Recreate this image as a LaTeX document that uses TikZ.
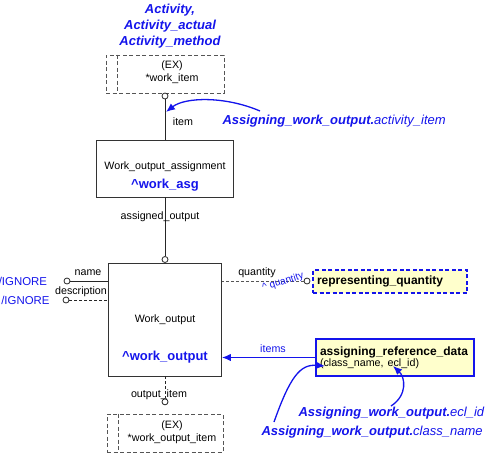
\documentclass[tikz,border=0pt]{standalone}
\usepackage{fontspec}
\setmainfont{Liberation Sans}
\usetikzlibrary{arrows.meta,positioning}
\definecolor{refblue}{RGB}{20,20,235}
\definecolor{refyellow}{RGB}{255,255,204}
\definecolor{exgray}{RGB}{85,85,85}

\begin{document}
\begin{tikzpicture}[x=1pt,y=-1pt,on grid,
    font=\fontsize{10.7}{13}\selectfont,
    entity/.style={draw=black!80, line width=0.9pt},
    exbox/.style={draw=exgray, line width=0.9pt, dash pattern=on 4pt off 2.5pt,
      minimum width=118pt, minimum height=38pt},
    exline/.style={draw=exgray, line width=0.9pt, dash pattern=on 4pt off 2.5pt},
    endpt/.style={circle, draw=black!85, fill=white, line width=0.8pt,
      inner sep=0pt, minimum size=6pt},
    link/.style={draw=black!85, line width=0.9pt},
    dlink/.style={link, dash pattern=on 3pt off 2pt},
    alias/.style={text=refblue, font=\fontsize{13}{15}\selectfont\bfseries},
    note/.style={text=refblue, font=\fontsize{13}{16}\selectfont\bfseries\itshape},
    ignore/.style={text=refblue, font=\fontsize{11.4}{14}\selectfont},
    ptr/.style={draw=refblue, line width=1.3pt, -{Latex[length=9pt,width=7.5pt]}},
    refbox/.style={draw=refblue, fill=refyellow, line width=1.3pt, align=left,
      inner xsep=4pt, font=\fontsize{12}{12}\selectfont}]
  \useasboundingbox (0,0) rectangle (487,453);

  % entities, top to bottom
  \node[exbox] (exa) at (165,74) {};
  \node[entity, minimum width=137pt, minimum height=57pt] (woa) [below=94.5pt of exa] {};
  \node[entity, minimum width=113pt, minimum height=113pt] (wo) [below=151pt of woa] {};
  \node[exbox, minimum width=116pt] (exb) [below=113.5pt of wo] {};
  \draw[exline] ([xshift=12pt]exa.north west) -- ([xshift=12pt]exa.south west);
  \draw[exline] ([xshift=12pt]exb.north west) -- ([xshift=12pt]exb.south west);

  \node[align=center] (exatxt) at ([xshift=7pt,yshift=1.5pt]exa.center) {(EX)\\*work\_item};
  \node[align=center] (exbtxt) at ([xshift=7pt,yshift=1pt]exb.center) {(EX)\\*work\_output\_item};
  \node (woaname) [above=1.5pt of woa] {Work\_output\_assignment};
  \node[alias] (woaalias) [below=16.5pt of woa] {\textasciicircum work\_asg};
  \node (woname) at (wo) {Work\_output};
  \node[alias] (woalias) [below=37.5pt of wo] {\textasciicircum work\_output};

  \node[note, align=center] (supers) at (170,26.5) {Activity,\\Activity\_actual\\Activity\_method};

  % referenced boxes
  \node[refbox, dash pattern=on 4pt off 2.5pt, text width=146pt, minimum height=23pt] (rq)
    at (390,281.5) {\bfseries representing\_quantity};
  \node[refbox, text width=150pt, minimum height=37pt] (ard) at (395,357.5)
    {\bfseries assigning\_reference\_data\\[-1pt]\mdseries\fontsize{10.7}{12}\selectfont(class\_name, ecl\_id)};

  % end circles
  \node[endpt] (c1) [below=22pt of exa] {};
  \node[endpt] (c2) [above=60pt of wo] {};
  \node[endpt] (c3) [below=22pt of wo.south] {};
  \node[endpt] (cn) at (67,281) {};
  \node[endpt] (cd) at (66,300) {};
  \node[endpt] (cq) at (307,281) {};

  \draw[link] (c1) -- (woa);
  \draw[link] (woa) -- (c2);
  \draw[dlink] (wo) -- (c3);
  \draw[link] (cn) -- (cn -| wo.west);
  \draw[dlink] (cd) -- (cd -| wo.west);
  \draw[dlink, draw=exgray] (cq) -- (cq -| wo.east);
  \draw[ptr] (ard) -- (ard -| wo.east);

  % attribute names
  \node (item) at (183,122) {item};
  \node (asgout) at (160,216.5) {assigned\_output};
  \node (outitem) at (159,394.5) {output\_item};
  \node (name) at (88,273) {name};
  \node (descr) at (81,292) {description};
  \node (qty) at (257,272.5) {quantity};
  \node[text=refblue, font=\fontsize{10}{12}\selectfont, rotate=17] (qtyalias) at (283,282)
    {\textasciicircum{} quantity};
  \node[text=refblue] (items) at (273,348.5) {items};
  \node[ignore, anchor=east] (ign1) at (50.5,281) {/IGNORE};
  \node[ignore, anchor=east] (ign2) at (53,300) {/IGNORE};

  % mapping notes
  \node[note, anchor=west] (n1) at (219,121) {Assigning\_work\_output.\mdseries activity\_item};
  \node[note, anchor=west] (n2) at (295,413.5) {Assigning\_work\_output.\mdseries ecl\_id};
  \node[note, anchor=west] (n3) at (258,432.5) {Assigning\_work\_output.\mdseries class\_name};
  \coordinate (s1) at (260,111);
  \coordinate (t1) at (166,112);
  \coordinate (s2) at (391,406);
  \coordinate (t2) at (393,366);
  \coordinate (s3) at (274,422);
  \coordinate (t3) at (325,366);
  \draw[ptr] (s1) .. controls (225,96) and (185,97) .. (t1);
  \draw[ptr] (s2) .. controls (408,395) and (405,377) .. (t2);
  \draw[ptr] (s3) .. controls (290,377) and (300,364) .. (t3);
\end{tikzpicture}
\end{document}
